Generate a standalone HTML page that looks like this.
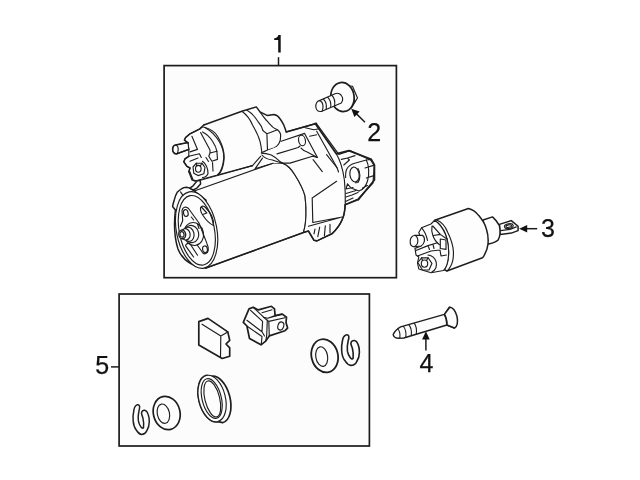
<!DOCTYPE html>
<html>
<head>
<meta charset="utf-8">
<title>Starter parts diagram</title>
<style>
html,body{margin:0;padding:0;background:#fff;}
body{width:640px;height:480px;overflow:hidden;position:relative;font-family:"Liberation Sans",sans-serif;}
svg{position:absolute;left:0;top:0;display:block;will-change:transform;opacity:0.999;}
.lbl{font-family:"Liberation Sans",sans-serif;font-size:25px;fill:#111;stroke:#111;stroke-width:0.25;}
.box{fill:#fcfcfc;stroke:#1c1c1c;stroke-width:1.7;}
.ld{fill:none;stroke:#1c1c1c;stroke-width:1.5;}
.art{fill:none;stroke:#1e1e1e;stroke-width:1.15;stroke-linecap:round;stroke-linejoin:round;}
.artw{fill:#fdfdfd;stroke:#1e1e1e;stroke-width:1.15;stroke-linecap:round;stroke-linejoin:round;}
.ah{fill:#111;stroke:none;}
</style>
</head>
<body>
<svg width="640" height="480" viewBox="0 0 640 480">
<!-- frames -->
<rect class="box" x="164.1" y="65.6" width="232.3" height="212.1"/>
<rect class="box" x="119.1" y="294" width="250.3" height="152"/>
<!-- leader lines -->
<line class="ld" x1="278.5" y1="57.2" x2="278.5" y2="65.6"/>
<line class="ld" x1="111" y1="366.9" x2="119" y2="366.9"/>
<!-- labels -->
<path class="ah" d="M278.4,35.1 L280.7,35.1 L280.7,52.6 L278.2,52.6 L278.2,40.1 L274.2,40.1 L274.2,38.3 C276.6,38.1 277.9,37 278.4,35.1 Z"/>
<text class="lbl" x="367.2" y="141">2</text>
<text class="lbl" x="541.0" y="237.3">3</text>
<text class="lbl" x="419.6" y="371.9">4</text>
<text class="lbl" x="95.2" y="373.8">5</text>
<!-- arrows -->
<line class="ld" x1="365" y1="122.2" x2="355" y2="112.4"/>
<polygon class="ah" points="351.3,108.8 359.6,111.5 354.4,116.9"/>
<line class="ld" x1="537.2" y1="228.7" x2="525" y2="228.7"/>
<polygon class="ah" points="519.2,228.7 527.2,224.9 527.2,232.5"/>
<line class="ld" x1="425.9" y1="350.6" x2="425.9" y2="338"/>
<polygon class="ah" points="425.9,331.3 429.7,339.6 422.1,339.6"/>
<!-- ART -->
<g id="motor" class="art">
<!-- main cylinder body -->
<path class="artw" d="M190,192.500 L273,163.200 L282.500,163.100 C288,165 292,170 295,175 C300,183 303.500,190 305,196 C307,212 306,224 303.500,232.500 L206,268 Z"/>
<!-- end cap outer rim -->
<path class="artw" style="stroke-width:1.5" d="M193.100,190 L189.800,188.100 L186.600,187.200 C184,187.200 182.500,188 181.900,188.600 C180,189.500 178.500,191 177.200,192.300 C175.800,194.500 175,197 174.400,199.400 C173.500,202 172.900,204.500 172.600,206.500 L175.400,210 C174,222 174.500,238 178,249 C182,259 191,266.500 206,268 L206,200 Z"/>
<path d="M180.500,191.900 L182.800,195.200"/>
<!-- cap face ellipses -->
<ellipse class="artw" cx="196.6" cy="230" rx="20.2" ry="38.8" transform="rotate(-11 196.6 230)"/>
<ellipse cx="196.8" cy="230.3" rx="17.6" ry="35.3" transform="rotate(-11 196.8 230.3)"/>
<!-- plate -->
<path d="M182,210.500 C182.500,207 186,206 188.500,208.500 L199,223 L206.900,243.400 C209.500,249 208.500,253 205.300,253.800 C203.500,254.200 202.500,253 201.500,251 L197.200,245 M182,210.500 L182.700,220.800 L180.300,226.300"/>
<ellipse cx="185.8" cy="213" rx="2.300" ry="3.5" transform="rotate(-11 185.8 213)"/>
<ellipse cx="205" cy="249.3" rx="2.4" ry="3.4" transform="rotate(-11 205 249.3)"/>
<path d="M191.300,217 L193.600,220 M197.500,224 L199,228.500"/>
<!-- top-right window -->
<path d="M201.400,206.500 C199.500,207.500 200.500,212 203,215.500 C206,220 209,223.500 213.500,225.500 C214,220 211,213 205.500,207.500 C204,206 202.500,205.800 201.400,206.500 Z M201.800,207.500 L206.800,213 L202.700,214.500"/>
<!-- bottom-left slot -->
<path d="M193.600,257 L185.800,246.200 C185.200,243.500 189,242.500 190.500,244.500 L197.500,255.200"/>
<!-- hub -->
<ellipse cx="193.7" cy="234" rx="9.800" ry="11.500" transform="rotate(-11 193.7 234)"/>
<ellipse class="artw" cx="191.4" cy="234" rx="7.300" ry="8.700" transform="rotate(-11 191.4 234)"/>
<ellipse class="artw" cx="188.6" cy="234.200" rx="5.400" ry="7.200" transform="rotate(-11 188.6 234.2)"/>
<ellipse class="artw" cx="185.5" cy="234.300" rx="4.600" ry="5.700" transform="rotate(-11 185.5 234.3)"/>
<ellipse class="artw" style="stroke-width:1.4" cx="182.2" cy="234.400" rx="3.400" ry="4.400" transform="rotate(-11 182.2 234.4)"/>
<ellipse cx="182" cy="234.400" rx="2" ry="2.800" transform="rotate(-11 182 234.4)"/>
<!-- upper line (solenoid seat) -->
<path d="M200.400,180.200 L252.500,165.600"/>
<!-- solenoid body -->
<path style="fill:#fdfdfd;stroke:none" d="M203.800,125 L241.900,111.300 L256.300,106.900 L260,111.900 L267.500,115.600 L273.800,114.400 L280,118.800 L283.800,125 L286.300,131.900 L280.600,141 L267.500,150 L261.900,152.500 L254.500,163.800 L217.500,175 C208,172 200,150 200,128.800 Z"/>
<path style="stroke-width:1.5" d="M203.800,125 L241.900,111.300 L256.300,106.900 L260,111.900 L262.500,113.100 L267.500,115.600 L273.800,114.400 C277,115 279,117 280,118.800 C282,121.500 283,123.500 283.800,125 L286.300,131.900"/>
<path d="M217.500,175 L252.500,165.600"/>
<!-- solenoid right end arcs -->
<path d="M241.900,111.300 C247,115 250,119 252.500,125 C256,131 258.500,136 260,141.300 C261,145 261.500,149 261.900,152.500"/>
<path d="M247,110.300 C252,113 255,117 256.900,120 C259,123 260.500,125 261.300,126.300 L263,130.600"/>
<!-- boss -->
<path d="M260.300,112.300 C263,116 265,119 267.500,121.300 C270,124.500 272,126 272.500,126.900 C274.500,128.500 276,129 277.500,129.800 C280,132 281,134 280.600,136.300 C280.800,139.500 280,142 278.800,143.800 C277.500,146 275.500,147.300 273.800,148 L266.300,150.600 L261.900,152.500"/>
<path d="M263,130.600 L266.900,133.800 L276.900,130 M266.900,133.800 L267.500,150"/>
<!-- solenoid cap -->
<path class="artw" d="M205,127.500 C203,126.500 201.500,127 200,128.800 L190,133.800 L185.600,137.500 L184.400,140 L188,143 L188.800,149.400 L188.800,156.300 L185,158.800 L183.800,161.900 L186.900,166.300 L190,168 L188.800,171.900 L191.900,180 L195,181 L217.500,175 C221,172 223,166 223.800,158 C224,148 218,135 205,127.500 Z"/>
<!-- stud -->
<path class="artw" d="M175.600,145 L188,142.500 L188.800,149.400 L176.900,153.800 C174,154.300 172.500,151.500 172.600,149.400 C172.700,147 173.800,145.200 175.600,145 Z"/>
<path d="M175.600,145 C177.300,145.500 178.300,147.500 178.200,149.500 C178.100,151.500 177.600,153 176.900,153.800"/>
<!-- solenoid left arcs -->
<path d="M205,127.500 C211,129 215,132 217.500,136.300 C221,142 223,147 223.800,152.500 C224.500,158 224,163 222.500,167.500 C221.500,171 220,173.500 217.500,175"/>
<path d="M202.500,131.900 C207,134 210,137 212.500,141.300 C215,145 216.300,148 216.900,151.300"/>
<!-- cap details -->
<path d="M191.900,136.300 L197.500,149.400 L190,151.900 M200.600,132.500 L210,150 L210,153 L216.900,151.300 L217.500,159.400 L211.900,161.300 L208.800,156.300 L210,153"/>
<path d="M188.800,156.300 L199.400,153.800 L201.300,157.500 M190,161.300 L198,158 M206,157.500 L208.500,161.500 M212.500,162.500 L213,171"/>
<path d="M202.500,161.300 C206,164 208,168 208,173.800 C207,176 205,177.500 202.500,177.500"/>
<!-- nut -->
<path class="artw" d="M193,167 L196.300,163.200 L201.900,163.200 L205,167.500 L203.800,173.800 L198,175.600 L193.800,173.200 Z"/>
<ellipse cx="198.3" cy="168.8" rx="2.800" ry="3.400"/>
<path d="M196.300,163.200 L197,166 M201.900,163.200 L200.300,166"/>
<path class="artw" style="stroke-width:1.5" d="M189.800,172.200 L193.100,180.200 L196.900,181.100 L200.200,180.200 L200.600,183.900 L196.900,188.100 L193.100,190 L189.800,188.100 L193.100,185.800 L196.900,181.100"/>
<!-- drive housing -->
<path style="fill:#fdfdfd;stroke:none" d="M279,146 L286.300,131.900 L316.300,123.400 L338.800,154.400 L350,150.600 L370.600,160 L374.400,165.600 L373.400,177 L373,183 L358,199 L345,204.700 L345,207.500 C344.500,213 343.500,217 342.200,219.500 C340,225 336,230 331.900,233.800 L316.900,240.900 L314,240.300 L308.400,231 L303.500,232.500 C306,224 307,212 305,196 C303.500,190 300,183 295,175 C292,170 288,165 282.500,163.100 L273,163.200 L254.500,163.800 L262,154.500 L267.700,150.500 Z"/>
<path d="M286.300,131.900 L316.300,123.400 L338.800,154.400 L350,150.600 L370.600,160 L374.400,165.600 L373.400,177 L373,183 L358,199 L345,204.700 L345,207.500 C344.500,213 343.500,217 342.200,219.500 C340,225 336,230 331.900,233.800 L316.900,240.900 L314,240.300 L308.400,231 L303.500,232.500 C306,224 307,212 305,196 C303.500,190 300,183 295,175 C292,170 288,165 282.500,163.100"/>
<!-- housing inner lines -->
<path d="M252.500,165.600 L260.600,156.300 M255,168.800 L262.500,158.100 M261.900,155 C264,157.500 268,159.500 272.500,160 C275,161 277,161.900 282.500,163.100 M255,168.800 L273,163.200"/>
<path d="M305.300,127.700 L313.800,129.800 L318,129 M316.700,131.200 L337.200,168 M281.200,141.200 L304.600,133.400 L317.400,157.500 M309.600,136.200 L316.700,134.800"/>
<path d="M277,153.900 L298.200,147.500 L300,146 M301,148.200 C303,150.500 305,151.300 306.700,151.800 L317.400,157.500"/>
<path d="M261.300,153.100 C265,153.300 268,154 271.300,155 C274,156.500 276,158 277.500,159.400 C279.500,161.500 281,162.500 282.500,163.100 L290,163.100 L312.500,156.300 L317.400,157.500 M313.100,159.600 L322.300,171.600 M326.600,154.600 L337.200,168 L338.500,172"/>
<ellipse cx="302" cy="140.500" rx="3.400" ry="5.300" transform="rotate(-11 302 140.500)"/>
<!-- window rectangle -->
<path d="M312.200,198 L336.600,181.300 M312.200,198 L312.800,222.500 L342.200,217 M308.400,226.300 L339.400,217.800"/>
<!-- ribs -->
<path d="M315,229 L314,233.800 M319.700,227.200 L317.800,236.600 M325.300,225.900 L324.400,235.600 M330,224.400 L330,232.800"/>
<!-- ear -->
<path d="M341.300,159.400 L347.500,158 L355,155.600 M347.500,158 L349.400,160 L343.800,165"/>
<path d="M355.600,163 L366.300,160 L371.300,159.400 M355.600,163 C351,164 347.500,167 346.300,170 C345.500,173 345.500,175 345.600,177.500"/>
<path d="M366.300,160 C369,165 369.500,175 367.500,181 C366,186 362.500,190 359,191 M365,168 L373.500,165.400 M366.300,178 L373.800,175.600 M362.500,188 L367.500,185.600"/>
<ellipse cx="354.5" cy="174.500" rx="4.600" ry="7.500" transform="rotate(-8 354.5 174.500)"/>
<path d="M358,168.500 C360.500,172 360.500,179 358,182.500 L355.500,182.800"/>
<path d="M347.500,183.800 L351,188 L359,191 M347.500,183.800 L346,189 L353,187.500 M346,193.500 L356,190.500 M346,197 L352,195 L358,192.500 M345.500,201.500 L353,198"/>
<path d="M336.300,153.800 C340,160 343,170 344.400,180 C345.200,188 345.500,195 345.300,205"/>
<!-- silhouette emphasis -->
<path style="stroke-width:1.6" d="M206,268 L303.500,232.500 L308.400,231 L314,240.300 L316.900,240.900 L331.900,233.800 C336,230 340,225 342.200,219.500 C343.500,217 344.500,213 345,207.500 L345.200,204.700 L358.500,199.500"/>
<path style="stroke-width:1.6" d="M286.300,131.900 L316.300,123.400"/>
<path style="stroke-width:1.5" d="M203.800,125 C202,126.500 201,127.500 200,128.800 L190,133.800 L185.600,137.500 L184.400,140 L188,143 M188.800,156.300 L185,158.800 L183.800,161.900 L186.900,166.300 L190,168 L188.800,171.900 L189.800,172.200"/>
<path style="stroke-width:1.5" d="M188,142.500 L175.600,145 C173.800,145.200 172.700,147 172.600,149.400 C172.500,151.500 174,154.300 176.900,153.800 L188.800,149.400"/>
<!-- thick outer edges -->
<path style="stroke-width:1.8" d="M315.200,123.500 L336.300,153.800 L348.800,150.600 L371.300,159.400 L374.400,165 L374.400,180 L358.500,199.500"/>
</g>
<g id="bolt" class="art">
<!-- hex head behind flange -->
<path class="artw" d="M346,85.500 L352.500,86.300 L357.500,98 L355,101.900 L351.500,108 L344,108 Z"/>
<path d="M349,86.500 L353.200,95.200 L355,101.900"/>
<!-- flange -->
<ellipse class="artw" style="stroke-width:1.7" cx="342.5" cy="97" rx="11.6" ry="14.6" transform="rotate(-8 342.5 97)"/>
<!-- shank -->
<path class="artw" d="M335,93.800 L319.400,100.600 C317,101 315.600,104 315.800,106.800 C316,110 318,112.200 321.900,111.300 L341.300,103 C343.200,100.500 343,97.500 341,95 C339.500,93.300 337,93 335,93.800 Z"/>
<path d="M319.400,100.600 C321.500,101 322.800,103.500 323,106 C323.100,108.500 322.700,110.300 321.900,111.300"/>
<path d="M323.500,99.200 C325.500,101 326.800,105 326.200,109.300 M327.800,97.300 C330,99.500 331.200,103.500 330.600,107.500 M332,95.500 C334,97.500 335.200,101.500 334.600,105.800"/>
</g>
<g id="solenoid" class="art">
<!-- lug -->
<path class="artw" style="stroke-width:1.5" d="M499.400,224.400 L511.300,220.600 L518.100,226.300 L518.100,230.600 L511.300,233.100 L500,234.600 Z"/>
<ellipse cx="508.8" cy="226.100" rx="4.400" ry="2.300" transform="rotate(-10 508.8 226.1)"/>
<ellipse cx="508.8" cy="226.100" rx="2.900" ry="1.200" transform="rotate(-10 508.8 226.1)"/>
<path d="M500.600,230.600 L510,229.400 L516.300,226.900"/>
<!-- plunger -->
<path class="artw" style="stroke-width:1.5" d="M483.100,220 L492.500,216.900 C495.500,219.500 497.800,222.500 499.400,225.600 C500,228.500 500.200,231 500,233.800 C499.800,236.500 499,238.500 498.100,240 C496,242 493,243 489.400,243.800 L487,244.500 Z"/>
<!-- body -->
<path class="artw" style="stroke-width:1.5" d="M434.700,220.300 L468.400,208.500 C473,209.500 476,212 478.800,215.600 C482.500,220 485,224 486.300,228.800 C488,234 488.500,239 488,243.800 C487.500,248 486.500,251 485.300,253 C484.500,255 483.500,256.800 482.500,257.800 L446.900,271 C440,268 434,260 431.500,248 C429,236 430,226 434.700,220.300 Z"/>
<!-- left end arcs -->
<path d="M436.500,220 C442,222 445.500,226.500 447.800,232.500 C451,239 453,245 453.400,251.300 C453.700,258 452.500,263 450.600,266.300 C449.500,268.500 448.500,270 446.900,271"/>
<path d="M437.500,222.500 C442,226.500 445.500,233 447.300,240 C448.800,247 449,255 447.800,261 C447,265.500 445.500,268.500 443.500,270.500 M443.200,254.500 L444,267"/>
<!-- cap -->
<path class="artw" d="M434.700,220.300 L430.900,224 L421.600,227.800 L418.800,232.500 L420,236 L424.400,241 L421,246 L415,248.400 L416,255 L418.800,256.900 L417.500,263 L418.800,269 L431,272.800 L443.500,270.500 C445.500,268.500 447,265.500 447.800,261 C449,255 448.800,247 447.300,240 C445.500,233 442,226.500 437.500,222.500 Z"/>
<!-- stud -->
<path class="artw" d="M415,235.300 L422.500,235.300 C424,236.500 424.800,238.500 424.400,241 C424,243.500 423,245 421,246 L414,246.800 C411.500,246.500 410,244 410.200,241 C410.400,238 412,235.800 415,235.300 Z"/>
<path d="M415,235.300 C417,236.500 418,239 417.800,241.500 C417.600,244 416,246 414,246.800"/>
<!-- cap inner details -->
<path d="M421.600,227.800 C424.500,231 426.500,235.500 427.500,240.500"/>
<path d="M432,226 C431.500,229 431.800,232.500 432.800,235.300 C434,239 436.500,242.500 439.400,244.700 M432.800,226 L440.300,234.400 L446.900,239 M440.300,234.400 L433.500,235.500"/>
<path d="M440.300,239 L446,240 L446,249.400 L440.300,248.500 Z"/>
<path d="M416,250.500 L428,245.600 L437.500,242.800 M428,245.600 L429.500,249.500 M433,244.500 L434,248.500 M417.500,256 L431,251 L440,250 M440,250 L441,256 L446.500,255"/>
<!-- washer arc -->
<path d="M428,255 C432,255.500 435,258 436.200,262 C437,266 435.500,270 431.900,272"/>
<!-- nut -->
<path class="artw" d="M417.800,262.500 L421.600,257.800 L428.100,257.800 L431.900,263.400 L429,270 L422.500,270 Z"/>
<ellipse cx="424.5" cy="263.600" rx="3.200" ry="3.600"/>
<path d="M421.600,257.800 L422.500,260.500 M428.100,257.800 L426.500,260.500"/>
</g>
<g id="screw" class="art" style="stroke-width:1.5">
<path class="artw" style="stroke-width:1.5" d="M444.400,314.400 L400.600,326.900 C397,329 394.500,331.500 393.200,334.500 C393.500,337 395.500,338 398,338.200 L403.800,338 L446.900,325 L454.400,328 L449.400,307.300 Z"/>
<path class="artw" style="stroke-width:1.5" d="M449.800,307.200 A5.300,10.700 -13 0 1 454.600,328 L446.900,325 C447,321 446,317 444.400,314.400 Z"/>
<path style="stroke-width:1.1" d="M444.400,314.400 C446,317 447,321 446.900,325"/>
<path style="stroke-width:1.1" d="M398,329 C399.500,331 400.300,334.500 399.800,337.800 M403.500,326.500 C405.500,329 406.300,333 405.800,337 M409,324.800 C411,327.500 411.800,331.500 411.300,335.300 M414.300,323.300 C416,325.500 416.800,329.500 416.300,333.700"/>
</g>
<g id="kit" class="art">
<!-- block -->
<path class="artw" style="stroke-width:1.7" d="M198.800,321.600 L208,318.400 L227.800,331.900 L229.700,340.300 L226,344 L229.700,347.800 L229.700,356.300 L222.200,358.500 L198.800,345 Z"/>
<path d="M202,324.200 L220.800,336 L227.800,331.900 M220.800,336 L220.500,357.400"/>
<!-- plug -->
<path class="artw" style="stroke-width:1.7" d="M249,308.900 L253.200,307.300 L258.400,309.900 L271.400,306.300 L274.500,308.900 L275.100,315.600 L282.400,314.100 L286.500,317.200 L286,322.400 L287.600,328.100 L285,330.700 L269.300,335.900 L265.700,341.100 L261,344.800 L249.500,338.500 L246.900,326 L243.300,322.400 Z"/>
<path d="M253.200,307.300 L263.600,317.200 L267.300,320.300 L266.700,335.400 L265.700,341.100 M250.600,310.400 L262.600,321.400 L262,331.300 M246.900,320.300 L262,331.800 L264.500,336 M247.200,326.300 L262,336.500 L261.300,344"/>
<path d="M262,312.700 L272,309.800 M267.800,318.200 L281.800,314.100 M268.800,321.400 L285,317.700 M268.800,321.400 L269.300,335.900 M267.300,320.300 L268.800,321.400 M263.600,317.200 L267.800,318.200 L275.100,315.600"/>
<ellipse cx="280.8" cy="326" rx="2.900" ry="4.100" transform="rotate(18 280.8 326)"/>
<!-- seal ring -->
<path class="artw" style="stroke-width:1.7" d="M206.300,375.300 A13.300,23.900 -14 0 0 217.900,421.700 L222.600,422.700 A13.300,23.900 -14 0 0 211,376.300 Z"/>
<ellipse class="artw" cx="212.1" cy="398.500" rx="13.300" ry="23.700" transform="rotate(-14 212.1 398.5)"/>
<ellipse cx="211.7" cy="398.500" rx="9.600" ry="20.300" transform="rotate(-14 211.7 398.5)"/>
<ellipse cx="212.3" cy="398.900" rx="7.400" ry="18.500" transform="rotate(-14 212.3 398.9)"/>
<!-- small washer left -->
<ellipse class="artw" style="stroke-width:1.7" cx="166.7" cy="413" rx="13.300" ry="16.800" transform="rotate(-14 166.7 413)"/>
<ellipse cx="163.4" cy="413.700" rx="6.100" ry="9.800" transform="rotate(-12 163.4 413.7)"/>
<!-- washer right -->
<ellipse class="artw" style="stroke-width:1.8" cx="324.7" cy="355.800" rx="13.200" ry="16.800" transform="rotate(-14 324.7 355.8)"/>
<ellipse cx="321.7" cy="356.600" rx="5.900" ry="9.900" transform="rotate(-10 321.7 356.6)"/>
<!-- clips -->
<path class="artw" style="stroke-width:1.6" d="M346,334.900 C343.500,336 342.600,338.500 342.400,341.300 C341.600,344.500 341.400,348 341.700,351.200 C342,355.500 343.300,358.800 345.300,361.100 C346.800,363.500 348.800,365.200 350.900,365.400 C353.500,365.400 355.500,364 356.600,361.800 C358.500,359 359.400,356 359.400,352.600 C359.500,349.500 359,346.500 358,344.100 C357.200,342 356,340.800 354.500,340.500 C352.500,340.300 351,341.500 350.900,343.400 C351,345 351.800,346.500 352.400,348.300 C353.200,351.500 353.500,355 353.100,358.300 C352.500,359.300 351,359 350.200,357.600 C348.800,355.800 347.800,353.500 347.400,351.200 C347,348 347.300,344.500 348.100,341.300 C348.600,339.500 349,338 348.800,336.300 C348.300,334.900 347.200,334.500 346,334.900 Z"/>
<path class="artw" style="stroke-width:1.6" transform="translate(-209.3,69.500) translate(350,350) scale(0.91,0.97) translate(-350,-350)" d="M346,334.900 C343.500,336 342.600,338.500 342.400,341.300 C341.600,344.500 341.400,348 341.700,351.200 C342,355.500 343.300,358.800 345.300,361.100 C346.800,363.500 348.800,365.200 350.900,365.400 C353.500,365.400 355.500,364 356.600,361.800 C358.500,359 359.400,356 359.400,352.600 C359.500,349.500 359,346.500 358,344.100 C357.200,342 356,340.800 354.500,340.500 C352.500,340.300 351,341.500 350.900,343.400 C351,345 351.800,346.500 352.400,348.300 C353.200,351.500 353.500,355 353.100,358.300 C352.500,359.300 351,359 350.200,357.600 C348.800,355.800 347.800,353.500 347.400,351.200 C347,348 347.300,344.500 348.100,341.300 C348.600,339.500 349,338 348.800,336.300 C348.300,334.900 347.200,334.500 346,334.900 Z"/>
</g>
</svg>
</body>
</html>
